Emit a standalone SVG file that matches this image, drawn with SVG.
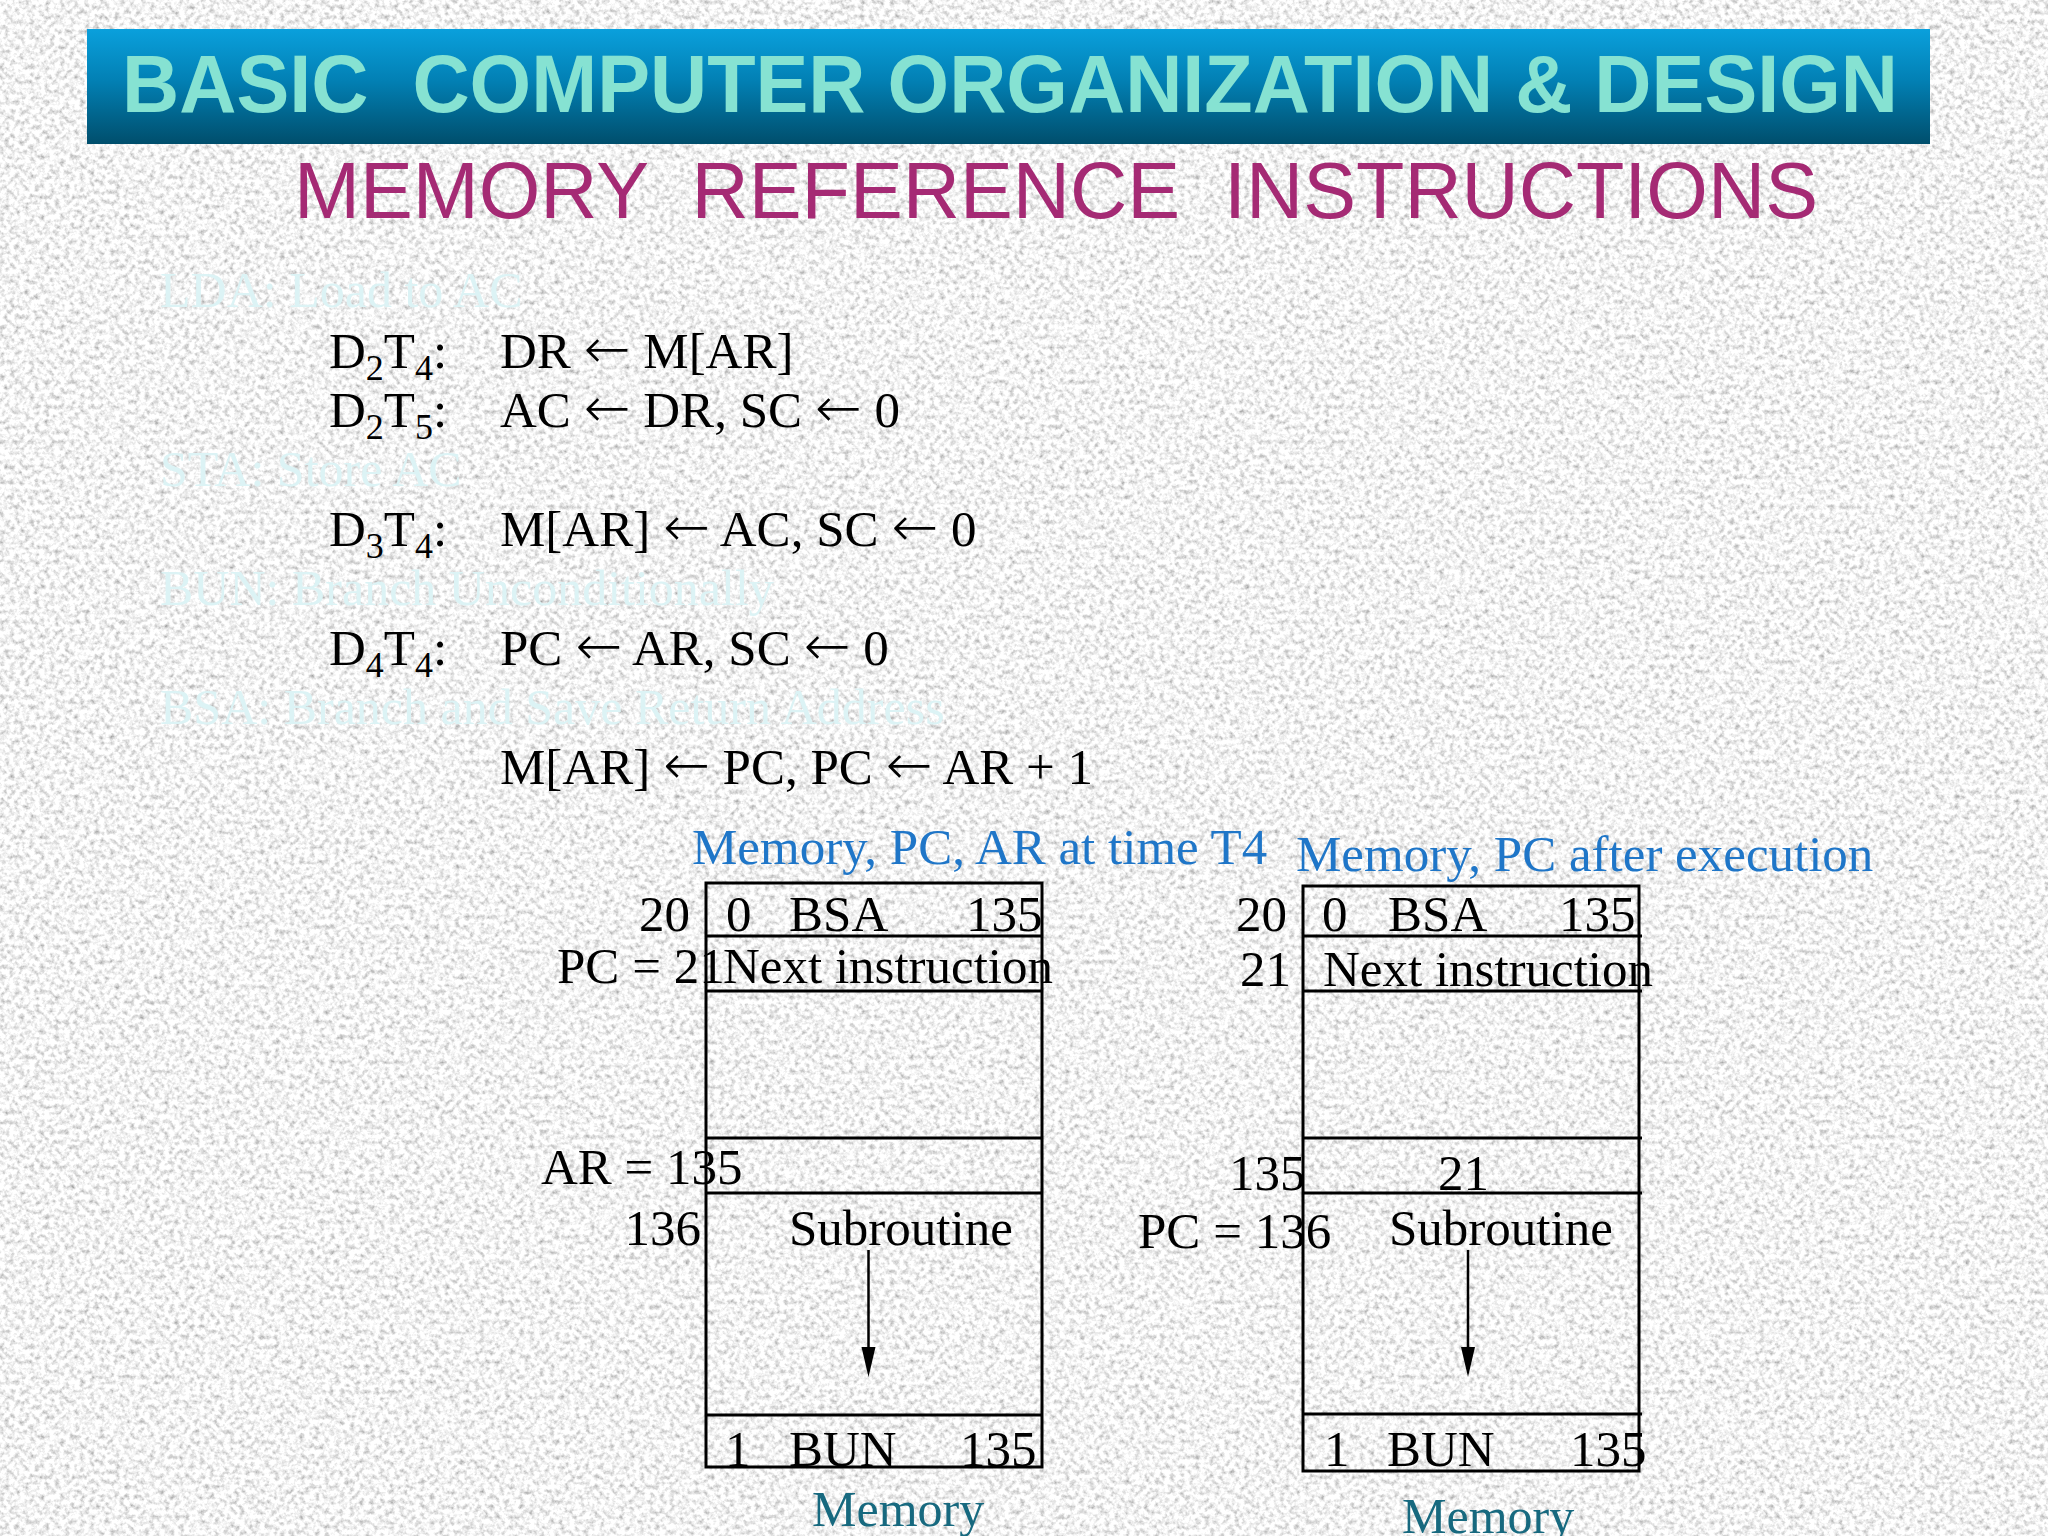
<svg xmlns="http://www.w3.org/2000/svg" width="2048" height="1536" viewBox="0 0 2048 1536">
<defs>
<linearGradient id="barGrad" x1="0" y1="0" x2="0" y2="1">
<stop offset="0" stop-color="#0aa0dc"/>
<stop offset="0.45" stop-color="#0280b4"/>
<stop offset="1" stop-color="#004e6c"/>
</linearGradient>
<filter id="tex" x="0" y="0" width="100%" height="100%">
<feTurbulence type="fractalNoise" baseFrequency="0.2" numOctaves="3" seed="7" result="n"/>
<feColorMatrix in="n" type="matrix" values="1.2 0 0 0 0.3  1.2 0 0 0 0.3  1.2 0 0 0 0.3  0 0 0 0 1"/>
</filter>
<style>
.serif{font-family:"Liberation Serif","Times New Roman",serif;}
.rule{font-size:51px;fill:#000;}
.arr{font-family:"DejaVu Sans",sans-serif;font-weight:200;font-size:56px;}
.faint{font-size:50px;fill:#dcf3f5;}
.cell{font-size:51px;fill:#000;}
.cap{font-size:51px;fill:#1f76c8;}
.memlbl{font-size:50px;fill:#17697f;}
.box{fill:none;stroke:#000;stroke-width:3;}
.row{stroke:#000;stroke-width:3;}
.flow{stroke:#000;stroke-width:2.5;fill:none;}
.head{fill:#000;}
</style>
</defs>
<rect width="2048" height="1536" fill="#e4e4e4"/>
<rect width="2048" height="1536" filter="url(#tex)"/>

<g id="header">
<rect x="87" y="29" width="1843" height="115" fill="url(#barGrad)"/>
<text x="122" y="112" font-family="'Liberation Sans',Arial,sans-serif" font-weight="bold" font-size="81" fill="#86e2d2" textLength="1776" lengthAdjust="spacingAndGlyphs" xml:space="preserve">BASIC  COMPUTER ORGANIZATION &amp; DESIGN</text>
<text x="294" y="218" font-family="'Liberation Sans',Arial,sans-serif" font-size="80" fill="#a52a74" textLength="1524" lengthAdjust="spacingAndGlyphs" xml:space="preserve">MEMORY  REFERENCE  INSTRUCTIONS</text>
</g>

<g id="faint-headings" class="serif faint">
<text x="160" y="307">LDA: Load to AC</text>
<text x="160" y="486">STA: Store AC</text>
<text x="160" y="605">BUN: Branch Unconditionally</text>
<text x="160" y="724">BSA: Branch and Save Return Address</text>
</g>

<g id="rules" class="serif rule">
<text x="329" y="368">D<tspan font-size="36" dy="12">2</tspan><tspan dy="-12">T</tspan><tspan font-size="36" dy="12">4</tspan><tspan dy="-12">:</tspan></text>
<text x="500" y="368">DR <tspan class="arr">←</tspan> M[AR]</text>
<text x="329" y="427">D<tspan font-size="36" dy="12">2</tspan><tspan dy="-12">T</tspan><tspan font-size="36" dy="12">5</tspan><tspan dy="-12">:</tspan></text>
<text x="500" y="427">AC <tspan class="arr">←</tspan> DR, SC <tspan class="arr">←</tspan> 0</text>
<text x="329" y="546">D<tspan font-size="36" dy="12">3</tspan><tspan dy="-12">T</tspan><tspan font-size="36" dy="12">4</tspan><tspan dy="-12">:</tspan></text>
<text x="500" y="546">M[AR] <tspan class="arr">←</tspan> AC, SC <tspan class="arr">←</tspan> 0</text>
<text x="329" y="665">D<tspan font-size="36" dy="12">4</tspan><tspan dy="-12">T</tspan><tspan font-size="36" dy="12">4</tspan><tspan dy="-12">:</tspan></text>
<text x="500" y="665">PC <tspan class="arr">←</tspan> AR, SC <tspan class="arr">←</tspan> 0</text>
<text x="500" y="784">M[AR] <tspan class="arr">←</tspan> PC, PC <tspan class="arr">←</tspan> AR + 1</text>
</g>

<g id="memory-t4">
<text class="serif cap" x="692" y="864">Memory, PC, AR at time T4</text>
<rect class="box" x="706" y="883" width="336" height="584"/>
<line class="row" x1="706" y1="936" x2="1042" y2="936"/>
<line class="row" x1="706" y1="991" x2="1042" y2="991"/>
<line class="row" x1="706" y1="1138" x2="1042" y2="1138"/>
<line class="row" x1="706" y1="1193" x2="1042" y2="1193"/>
<line class="row" x1="706" y1="1415" x2="1042" y2="1415"/>
<g class="serif cell">
<text x="690" y="931" text-anchor="end">20</text>
<text x="726" y="931">0</text>
<text x="789" y="931">BSA</text>
<text x="966" y="931">135</text>
<text x="557" y="983">PC = 21</text>
<text x="723" y="983">Next instruction</text>
<text x="541" y="1184">AR = 135</text>
<text x="701" y="1245" text-anchor="end">136</text>
<text x="789" y="1245">Subroutine</text>
<text x="725" y="1466">1</text>
<text x="789" y="1466">BUN</text>
<text x="960" y="1466">135</text>
</g>
<text class="serif memlbl" x="812" y="1526">Memory</text>
</g>

<g id="memory-after">
<text class="serif cap" x="1296" y="871">Memory, PC after execution</text>
<rect class="box" x="1303" y="886" width="336" height="585"/>
<line class="row" x1="1303" y1="936" x2="1642" y2="936"/>
<line class="row" x1="1303" y1="991" x2="1642" y2="991"/>
<line class="row" x1="1303" y1="1138" x2="1642" y2="1138"/>
<line class="row" x1="1303" y1="1193" x2="1642" y2="1193"/>
<line class="row" x1="1303" y1="1414" x2="1642" y2="1414"/>
<g class="serif cell">
<text x="1287" y="931" text-anchor="end">20</text>
<text x="1322" y="931">0</text>
<text x="1388" y="931">BSA</text>
<text x="1559" y="931">135</text>
<text x="1240" y="986">21</text>
<text x="1323" y="986">Next instruction</text>
<text x="1229" y="1190">135</text>
<text x="1438" y="1190">21</text>
<text x="1138" y="1248">PC = 136</text>
<text x="1389" y="1245">Subroutine</text>
<text x="1324" y="1466">1</text>
<text x="1387" y="1466">BUN</text>
<text x="1570" y="1466">135</text>
</g>
<text class="serif memlbl" x="1402" y="1533">Memory</text>
</g>

<g id="connectors">
<line class="flow" x1="868.5" y1="1250" x2="868.5" y2="1350"/>
<polygon class="head" points="861.5,1347 875.5,1347 868.5,1377"/>
<line class="flow" x1="1468" y1="1250" x2="1468" y2="1350"/>
<polygon class="head" points="1461,1347 1475,1347 1468,1377"/>
</g>
</svg>
